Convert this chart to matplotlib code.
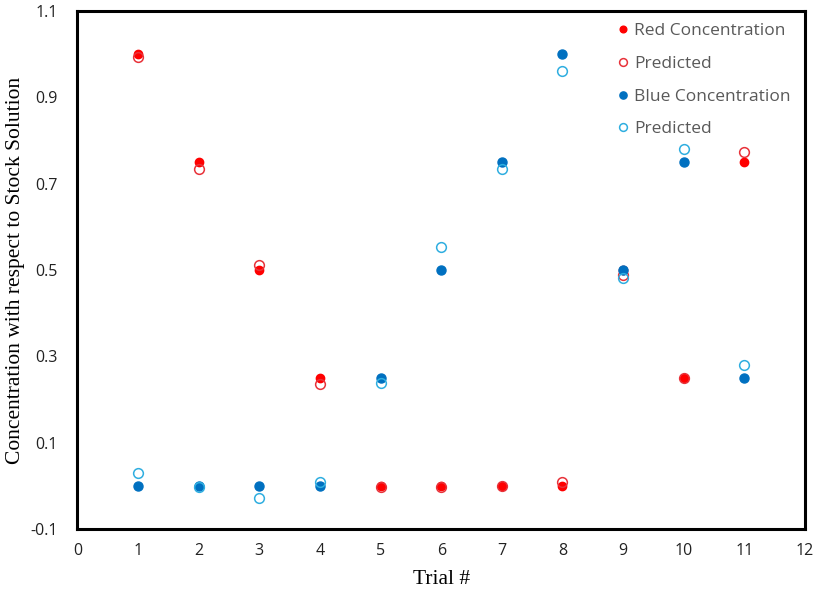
import numpy as np
import matplotlib
matplotlib.use("Agg")
import matplotlib.pyplot as plt

# values
trials = [1, 2, 3, 4, 5, 6, 7, 8, 9, 10, 11]
red_conc = [1.0, 0.75, 0.5, 0.25, 0.0, 0.0, 0.0, 0.0, 0.5, 0.25, 0.75]
red_pred = [0.993, 0.733, 0.512, 0.236, -0.002, -0.002, 0.0, 0.01, 0.488, 0.25, 0.773]
blue_conc = [0.0, 0.0, 0.0, 0.0, 0.25, 0.5, 0.75, 1.0, 0.5, 0.75, 0.25]
blue_pred = [0.03, -0.002, -0.028, 0.01, 0.238, 0.553, 0.733, 0.961, 0.481, 0.78, 0.28]

x_ticks = list(range(0, 13))
y_ticks = [-0.1, 0.1, 0.3, 0.5, 0.7, 0.9, 1.1]

fig = plt.figure(figsize=(8.2, 5.94), dpi=100)
ax = fig.add_axes([0.0945, 0.1094, 0.8872, 0.8721])

ax.plot(trials, red_conc, 'o', color='#FF0000', markersize=6, label='Red Concentration', zorder=3)
ax.plot(trials, red_pred, 'o', markerfacecolor='none', markeredgecolor='#E8323A',
        markeredgewidth=1.1, markersize=7, label='Predicted', zorder=4)
ax.plot(trials, blue_conc, 'o', color='#0070C0', markersize=6.5, label='Blue Concentration', zorder=5)
ax.plot(trials, blue_pred, 'o', markerfacecolor='none', markeredgecolor='#2FAEE0',
        markeredgewidth=1.1, markersize=7, label='Predicted', zorder=6)

ax.set_xlim(0, 12)
ax.set_ylim(-0.1, 1.1)
ax.set_xticks(x_ticks)
ax.set_yticks(y_ticks)
ax.set_yticklabels(['-0.1', '0.1', '0.3', '0.5', '0.7', '0.9', '1.1'])
ax.tick_params(axis='y', length=0, pad=14, labelsize=11.5, colors='#222222')
ax.tick_params(axis='x', length=0, pad=10, labelsize=11.5, colors='#222222')
for lbl in ax.get_xticklabels() + ax.get_yticklabels():
    lbl.set_fontfamily('Open Sans')

for sp in ax.spines.values():
    sp.set_linewidth(2.2)
    sp.set_color('black')

ax.set_xlabel('Trial #', family='Liberation Serif', fontsize=15.5, labelpad=8)
ax.set_ylabel('Concentration with respect to Stock Solution', family='Liberation Serif',
              fontsize=15.5, labelpad=4)

leg = ax.legend(loc='upper right', frameon=False, prop={'family': 'Open Sans', 'size': 12.5},
                handletextpad=0.05, labelspacing=0.95, borderaxespad=0.3, handlelength=1.2,
                markerscale=0.8, bbox_to_anchor=(0.997, 1.0))
for t in leg.get_texts():
    t.set_color('#595959')

fig.savefig('out.png', dpi=100)
